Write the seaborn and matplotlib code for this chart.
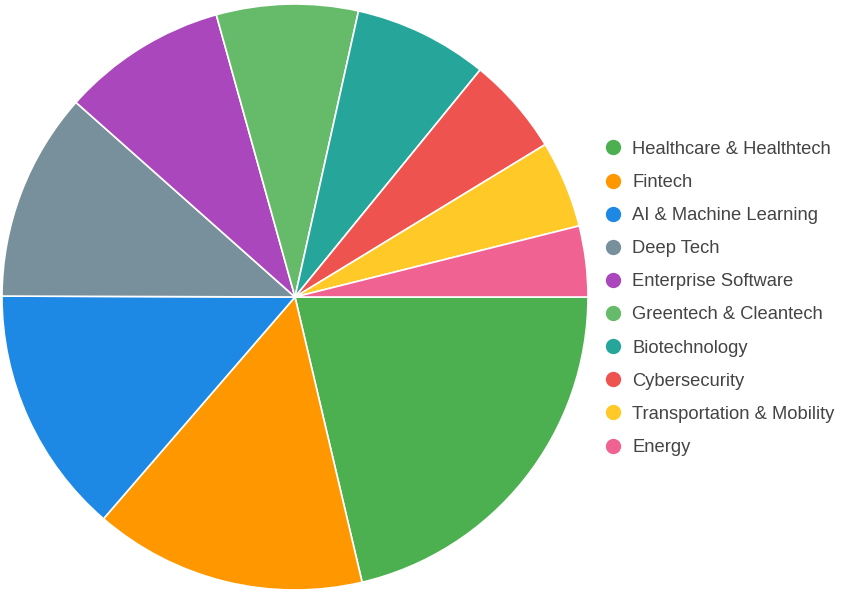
import matplotlib
matplotlib.use("Agg")
import matplotlib.pyplot as plt
from matplotlib.lines import Line2D
import seaborn as sns

# sector shares (percent)
sectors = [
    "Healthcare & Healthtech",
    "Fintech",
    "AI & Machine Learning",
    "Deep Tech",
    "Enterprise Software",
    "Greentech & Cleantech",
    "Biotechnology",
    "Cybersecurity",
    "Transportation & Mobility",
    "Energy",
]
shares = [21.3, 15.0, 13.7, 11.5, 9.1, 7.8, 7.4, 5.4, 4.8, 3.9]
sector_colors = [
    "#4CAF50", "#FF9800", "#1E88E5", "#78909C", "#AB47BC",
    "#66BB6A", "#26A69A", "#EF5350", "#FFCA28", "#F06292",
]

sns.set_theme(style="white")
plt.rcParams["font.family"] = ["Liberation Sans", "DejaVu Sans"]
palette = sns.color_palette(sector_colors)

W, H = 858, 594
fig = plt.figure(figsize=(W / 100, H / 100), dpi=100)
cx, cy, r = 295, 297, 293
ax = fig.add_axes([(cx - r) / W, (H - cy - r) / H, 2 * r / W, 2 * r / H])
ax.pie(shares, colors=palette, startangle=0, counterclock=False,
       wedgeprops=dict(edgecolor="white", linewidth=1.2))
ax.set_xlim(-1, 1)
ax.set_ylim(-1, 1)
ax.axis("off")

handles = [Line2D([0], [0], marker="o", linestyle="", markersize=10,
                  markerfacecolor=c, markeredgecolor=c) for c in palette]
fig.legend(handles, sectors, loc="upper left",
           bbox_to_anchor=(595 / W, 1 - 133.5 / H), frameon=False,
           fontsize=13.2, labelcolor="#444444", handletextpad=0.44,
           handlelength=1.2, labelspacing=0.88, borderaxespad=0)

fig.savefig("out.png", dpi=100)
